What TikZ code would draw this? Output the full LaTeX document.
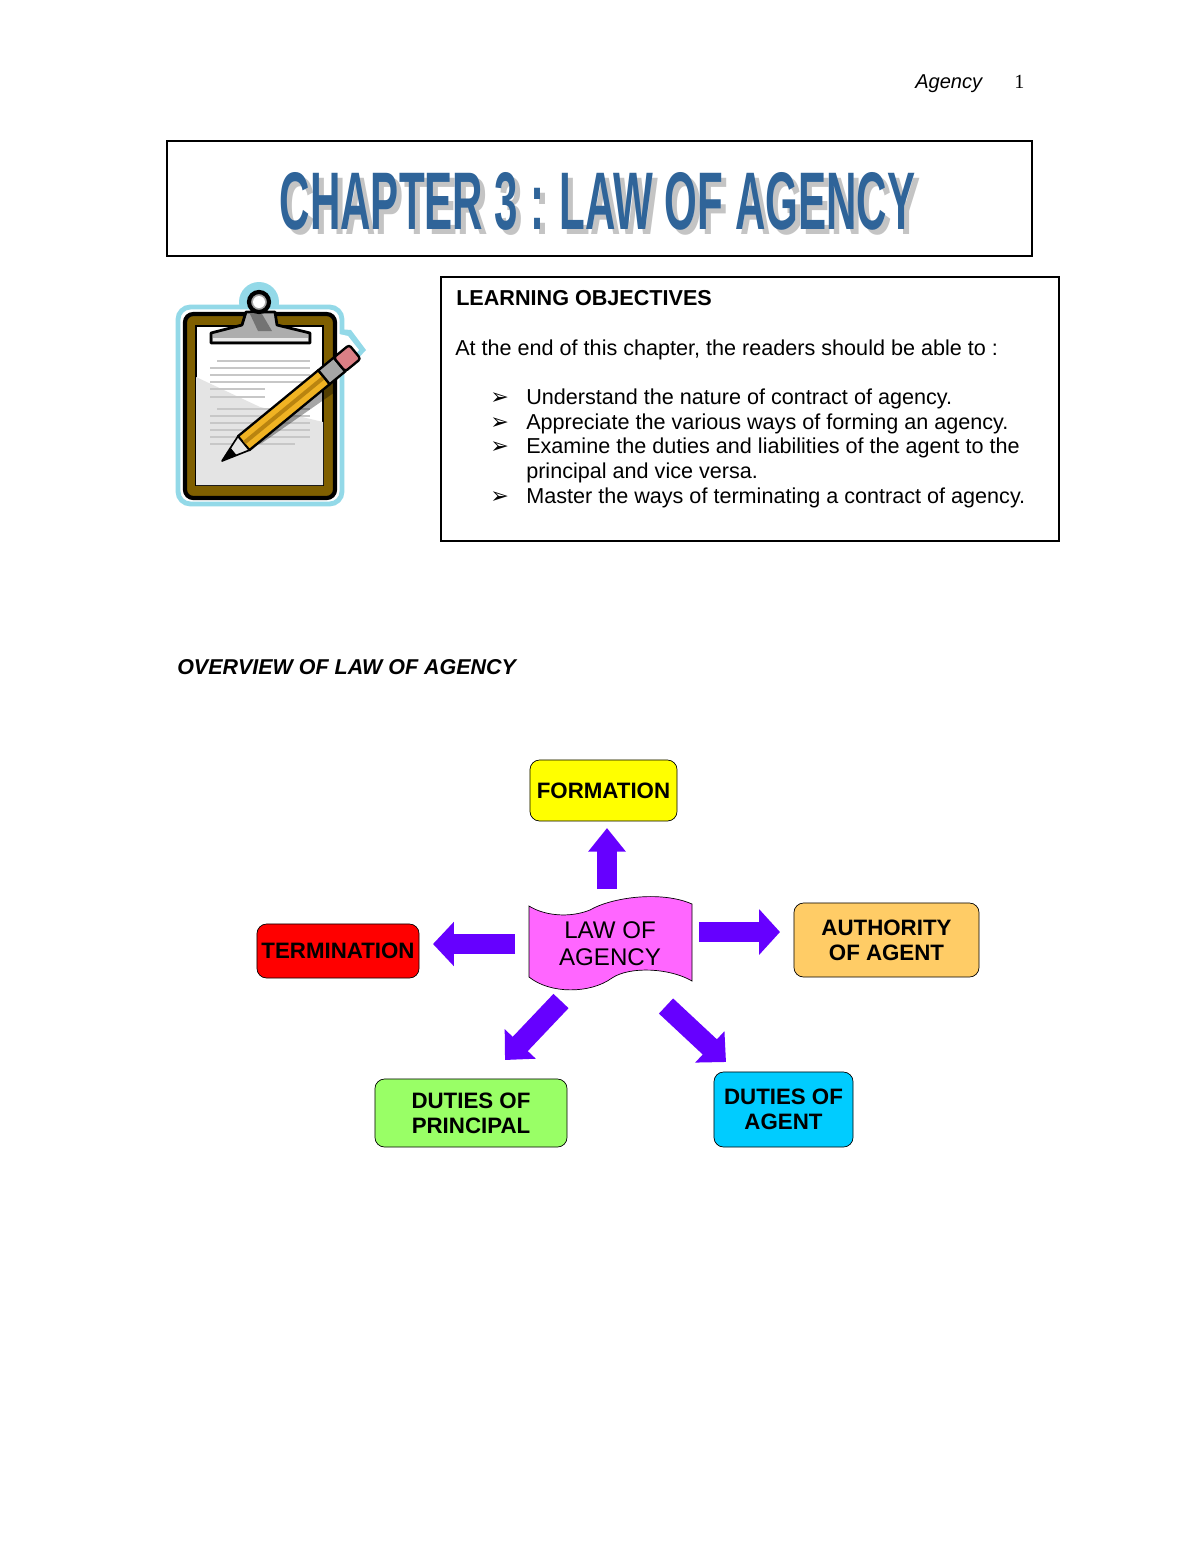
\documentclass[tikz,border=0pt]{standalone}
\usepackage{fontspec}
\usepackage{graphicx}
\setmainfont{Liberation Sans}
\newfontfamily\bulletfont{DejaVu Sans}
\newfontfamily\numberfont{Liberation Serif}
\usepackage{tikz}
\usetikzlibrary{arrows.meta}
\definecolor{TitleBlue}{HTML}{2F6499}
\definecolor{TitleShadow}{HTML}{C4C4C4}
\definecolor{ArrowPurple}{HTML}{6600FF}
\definecolor{LawPink}{HTML}{FF66FF}
\definecolor{HaloBlue}{HTML}{93D9E8}
\definecolor{BoardBrown}{HTML}{7F5F00}
\definecolor{PaperGrey}{HTML}{E4E4E4}
\definecolor{PencilYellow}{HTML}{F0B323}
\definecolor{PencilDark}{HTML}{B98410}
\definecolor{EraserPink}{HTML}{DB7F85}
\definecolor{FormationYellow}{HTML}{FFFF00}
\definecolor{TerminationRed}{HTML}{FF0000}
\definecolor{AuthorityOrange}{HTML}{FFCC66}
\definecolor{PrincipalGreen}{HTML}{99FF66}
\definecolor{AgentBlue}{HTML}{00CCFF}
\tikzset{%
  frame_box/.style={%
    draw=black,%
    line width=1.3pt,%
    inner sep=0,%
  },
  body_text/.style={%
    anchor=base west,%
    inner sep=0,%
    font={\fontsize{15.6}{17.8}\selectfont},%
  },
  bullet_mark/.style={%
    anchor=base west,%
    inner sep=0,%
    font={\bulletfont\fontsize{16}{18}\selectfont},%
  },
  topic_block/.style={%
    draw=black,%
    rectangle,%
    rounded corners=7pt,%
    line width=0.5pt,%
    inner sep=0,%
    align=center,%
    font={\bfseries\fontsize{16.1}{17.8}\selectfont},%
  },
  block_arrow/.style 2 args={%
    color=ArrowPurple,%
    line width=15pt,%
    -{Triangle[length=#1, width=#2]},%
  },
  paper_line/.style={%
    draw=black!22,%
    line width=1.6pt,%
  },
}
\begin{document}
\begin{tikzpicture}[x=0.01in, y=0.01in]

    \useasboundingbox [fill=white] (0, 0) rectangle (1200, -1553);

    % page head
    \node [anchor=base west, inner sep=0, font={\itshape\fontsize{14.5}{16}\selectfont}]
      (Head) at (915, -88) {Agency};
    \node [anchor=base west, inner sep=0, font={\numberfont\fontsize{14.5}{16}\selectfont}]
      (PageNo) at (1014, -88) {1};

    % title
    \node [frame_box, minimum width=8.65in, minimum height=1.15in] (TitleBox) at (599.5, -198.5) {};
    \node [inner sep=0, color=TitleShadow] (TitleShade) at (602.5, -206)
      {\resizebox{6.35in}{0.57in}{\bfseries CHAPTER 3 : LAW OF AGENCY}};
    \node [inner sep=0, color=TitleBlue] (Title) at (597.5, -201)
      {\resizebox{6.35in}{0.57in}{\bfseries CHAPTER 3 : LAW OF AGENCY}};

    % clipboard
    \fill [HaloBlue] (259, -302) circle (20);
    \fill [HaloBlue]
      (338, -329) -- (351, -330) -- (366, -350) -- (338, -380) -- cycle;
    \draw [HaloBlue, fill=white, line width=3.5pt, rounded corners=9pt]
      (178, -307) rectangle (342, -504);
    \fill [white] (339, -334) -- (348, -336) -- (359, -350) -- (339, -371) -- cycle;
    \draw [black, fill=BoardBrown, line width=3pt, rounded corners=6pt]
      (185, -314) rectangle (335, -498);
    \draw [black, fill=white, line width=0.8pt] (196, -326) rectangle (323, -485);
    \fill [PaperGrey]
      (196, -377) -- (260, -407) -- (323, -422) -- (323, -485) -- (196, -485) -- cycle;
    \foreach \liney/\linea/\lineb in {361/217/310, 368/210/310, 375/210/310, 382/210/310,
        389/210/265, 397/210/265, 409/217/310, 416/210/310, 423/210/310, 430/210/310,
        437/210/310, 444/210/295}
      \draw [paper_line] (\linea, -\liney) -- (\lineb, -\liney);
    \fill [black, opacity=0.35]
      (243, -450) -- (335, -376) -- (335, -392) -- (262, -443) -- cycle;
    \draw [black, fill=black!32, line width=2pt, line join=round]
      (211, -343) -- (211, -333) -- (242, -325) -- (246, -312) -- (275, -312)
      -- (277, -325) -- (310, -333) -- (310, -343) -- cycle;
    \fill [black!8] (213, -338) rectangle (308, -341);
    \fill [black!55] (250, -314) -- (262, -314) -- (272, -331) -- (258, -331) -- cycle;
    \draw [black, fill=black!35, line width=3pt] (259, -302) circle (10);
    \fill [white] (259, -302) circle (6);

    % pencil
    \begin{scope}[shift={(222, -461)}, rotate=39.4]
      \draw [black, fill=PencilYellow, line width=1.7pt, line join=round]
        (28, 9) -- (132, 9) -- (132, -9) -- (28, -9) -- cycle;
      \fill [PencilDark] (28, -2) rectangle (132, 2);
      \draw [black, fill=black!35, line width=1.7pt] (132, 9) rectangle (152, -9);
      \draw [black, fill=EraserPink, line width=1.7pt, rounded corners=2pt] (152, 9) rectangle (172, -9);
      \draw [black, fill=black!10, line width=1.2pt, line join=round]
        (0, 0) -- (28, 9) -- (28, -9) -- cycle;
      \fill [black] (0, 0) -- (15, 5) -- (15, -5) -- cycle;
    \end{scope}

    % objectives
    \node [frame_box, minimum width=6.18in, minimum height=2.64in] (Objectives) at (750, -409) {};
    \node [body_text, font={\bfseries\fontsize{15.6}{17.8}\selectfont}] (ObjHead) at (456, -305) {LEARNING OBJECTIVES};
    \node [body_text] (ObjIntro) at (455, -355) {At the end of this chapter, the readers should be able to :};
    \node [bullet_mark] (Mark1) at (490, -404) {➢};
    \node [bullet_mark] (Mark2) at (490, -429) {➢};
    \node [bullet_mark] (Mark3) at (490, -453) {➢};
    \node [bullet_mark] (Mark4) at (490, -503) {➢};
    \node [body_text] (Obj1) at (526, -404) {Understand the nature of contract of agency.};
    \node [body_text] (Obj2) at (526, -429) {Appreciate the various ways of forming an agency.};
    \node [body_text] (Obj3a) at (526, -453) {Examine the duties and liabilities of the agent to the};
    \node [body_text] (Obj3b) at (526, -478) {principal and vice versa.};
    \node [body_text] (Obj4) at (526, -503) {Master the ways of terminating a contract of agency.};

    \node [body_text, font={\bfseries\itshape\fontsize{15.5}{17.8}\selectfont}]
      (Overview) at (177, -674) {OVERVIEW OF LAW OF AGENCY};

    % overview chart
    \draw [black, fill=LawPink, line width=0.5pt]
      (529, -906)
      .. controls (545, -916) and (570, -918) .. (590, -910)
      .. controls (610, -898) and (660, -890) .. (692, -904)
      -- (692, -981)
      .. controls (670, -968) and (630, -966) .. (612, -978)
      .. controls (590, -994) and (550, -994) .. (529, -977)
      -- cycle;
    \node [inner sep=0, align=center, font={\fontsize{17.4}{19.4}\selectfont}]
      (Law) at (610, -944) {LAW OF\\AGENCY};

    \node [topic_block, fill=FormationYellow, minimum width=1.47in, minimum height=0.61in] (Formation) at (603.5, -790.5) {FORMATION};
    \node [topic_block, fill=TerminationRed, minimum width=1.62in, minimum height=0.54in] (Termination) at (338, -951) {TERMINATION};
    \node [topic_block, fill=AuthorityOrange, minimum width=1.85in, minimum height=0.74in] (Authority) at (886.5, -940) {AUTHORITY\\OF AGENT};
    \node [topic_block, fill=PrincipalGreen, minimum width=1.92in, minimum height=0.68in] (Principal) at (471, -1113) {DUTIES OF\\PRINCIPAL};
    \node [topic_block, fill=AgentBlue, minimum width=1.39in, minimum height=0.75in] (AgentDuties) at (783.5, -1109.5) {DUTIES OF\\AGENT};

    \coordinate (LawUp) at (607, -889);
    \coordinate (LawRight) at (699, -932);
    \coordinate (LawLeft) at (515, -944);
    \coordinate (LawDownLeft) at (561, -1001);
    \coordinate (LawDownRight) at (666, -1006);
    \coordinate (FormationIn) at (607, -828);
    \coordinate (AuthorityIn) at (780, -932);
    \coordinate (TerminationIn) at (433, -944);
    \coordinate (PrincipalIn) at (505, -1060);
    \coordinate (AgentIn) at (726, -1062);

    \draw [block_arrow={17pt}{26pt}] (LawUp) -- (FormationIn);
    \draw [block_arrow={15pt}{32pt}] (LawRight) -- (AuthorityIn);
    \draw [block_arrow={15pt}{31pt}] (LawLeft) -- (TerminationIn);
    \draw [block_arrow={16pt}{30pt}] (LawDownLeft) -- (PrincipalIn);
    \draw [block_arrow={16pt}{30pt}] (LawDownRight) -- (AgentIn);
\end{tikzpicture}
\end{document}
